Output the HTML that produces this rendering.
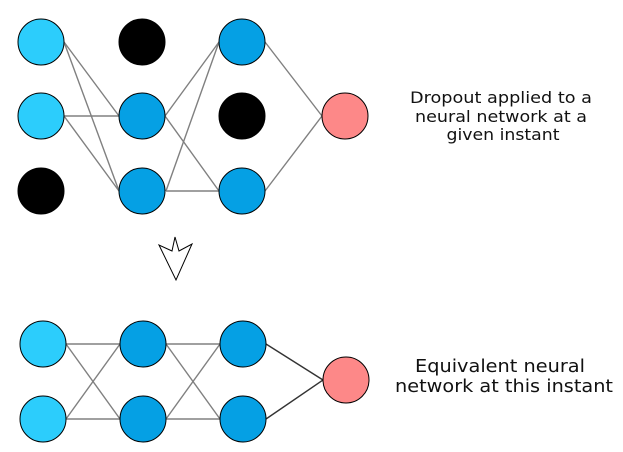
<!DOCTYPE html>
<html><head><style>body{margin:0;background:#fff}svg{display:block}</style></head><body>
<svg width="623" height="452" xmlns="http://www.w3.org/2000/svg">
<g stroke="#808080" stroke-width="1.4">
<line x1="64" y1="42" x2="119" y2="116"/><line x1="64" y1="42" x2="119" y2="191"/>
<line x1="64" y1="116" x2="119" y2="116"/><line x1="64" y1="116" x2="119" y2="191"/>
<line x1="165" y1="116" x2="219" y2="42"/><line x1="165" y1="116" x2="219" y2="191"/>
<line x1="166" y1="191" x2="219" y2="42"/><line x1="166" y1="191" x2="219" y2="191"/>
<line x1="265" y1="42" x2="322" y2="116"/><line x1="265" y1="191" x2="322" y2="116"/>
<line x1="66" y1="344" x2="120" y2="344"/><line x1="66" y1="344" x2="120" y2="419"/>
<line x1="66" y1="419" x2="120" y2="344"/><line x1="66" y1="419" x2="120" y2="419"/>
<line x1="166" y1="344" x2="220" y2="344"/><line x1="166" y1="344" x2="220" y2="419"/>
<line x1="166" y1="419" x2="220" y2="344"/><line x1="166" y1="419" x2="220" y2="419"/>
</g>
<g stroke="#333" stroke-width="1.4">
<line x1="266" y1="344" x2="323" y2="380"/><line x1="266" y1="419" x2="323" y2="380"/>
</g>
<g stroke="#000" stroke-width="1">
<circle cx="41" cy="42" r="23" fill="#2ccdfc"/>
<circle cx="41" cy="116" r="23" fill="#2ccdfc"/>
<circle cx="41" cy="191" r="23" fill="#000"/>
<circle cx="142" cy="42" r="23" fill="#000"/>
<circle cx="142" cy="116" r="23" fill="#05a0e4"/>
<circle cx="142" cy="191" r="23" fill="#05a0e4"/>
<circle cx="242" cy="42" r="23" fill="#05a0e4"/>
<circle cx="242" cy="116" r="23" fill="#000"/>
<circle cx="242" cy="191" r="23" fill="#05a0e4"/>
<circle cx="345" cy="116" r="23" fill="#fd8888"/>
<circle cx="43" cy="344" r="23" fill="#2ccdfc"/>
<circle cx="43" cy="419" r="23" fill="#2ccdfc"/>
<circle cx="143" cy="344" r="23" fill="#05a0e4"/>
<circle cx="143" cy="419" r="23" fill="#05a0e4"/>
<circle cx="243" cy="344" r="23" fill="#05a0e4"/>
<circle cx="243" cy="419" r="23" fill="#05a0e4"/>
<circle cx="346" cy="380" r="23" fill="#fd8888"/>
</g>
<polygon points="175,237 179,251 192,244 176,280 159,245 172,251" fill="#fff" stroke="#000" stroke-width="1"/>
<g font-family="DejaVu Sans, sans-serif" fill="#111" text-anchor="middle" lengthAdjust="spacingAndGlyphs">
<text x="501" y="103" font-size="16" textLength="182" lengthAdjust="spacingAndGlyphs">Dropout applied to a</text>
<text x="501" y="122" font-size="16" textLength="172" lengthAdjust="spacingAndGlyphs">neural network at a</text>
<text x="503" y="140" font-size="16" textLength="113" lengthAdjust="spacingAndGlyphs">given instant</text>
<text x="500" y="372" font-size="18" textLength="170" lengthAdjust="spacingAndGlyphs">Equivalent neural</text>
<text x="504" y="392" font-size="18" textLength="218" lengthAdjust="spacingAndGlyphs">network at this instant</text>
</g>
</svg>
</body></html>
